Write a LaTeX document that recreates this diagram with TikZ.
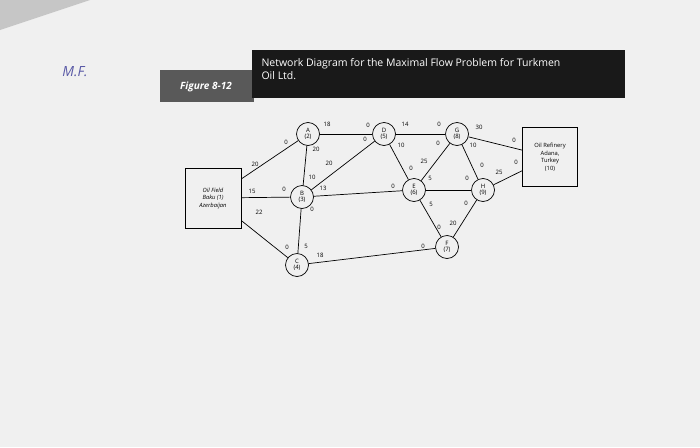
\documentclass[tikz,border=0pt]{standalone}
\usepackage{fontspec}
\setmainfont{Open Sans}
\begin{document}
\begin{tikzpicture}[x=1pt,y=-1pt,
  nd/.style={circle,draw,line width=0.7pt,minimum size=23pt,inner sep=0pt,align=center,font=\fontsize{6}{6.5}\selectfont},
  bx/.style={draw,line width=0.7pt,align=center,font=\fontsize{5.8}{7.5}\selectfont\itshape},
  lb/.style={font=\fontsize{6}{6}\selectfont,inner sep=0pt},
  ed/.style={line width=0.7pt}]
\fill[gray!12] (0,0) rectangle (700,447);
\fill[gray!45] (0,0) -- (90,0) -- (0,30) -- cycle;
\useasboundingbox (0,0) rectangle (700,447);
\node[font=\fontsize{14}{14}\selectfont\itshape,text=blue!30!gray] (mf) at (75,72) {M.F.};
\fill[gray!70!black] (160,70) rectangle (254,102);
\fill[black!90] (252,50) rectangle (625,98);
\node[text=white,font=\fontsize{10}{10}\selectfont\bfseries\itshape] (fig) at (206,87) {Figure 8-12};
\node[text=white,anchor=north west,align=left,font=\fontsize{10.5}{12.5}\selectfont] (title) at (258,55) {Network Diagram for the Maximal Flow Problem for Turkmen\\Oil Ltd.};
\node[bx,minimum width=56pt,minimum height=60pt] (S) at (213,198) {Oil Field\\Baku (1)\\Azerbaijan};
\node[bx,minimum width=55pt,minimum height=59pt,font=\fontsize{5.8}{7.5}\selectfont] (T) at (550,157) {Oil Refinery\\Adana,\\Turkey\\(10)};
\node[nd] (A) at (308,134) {A\\(2)};
\node[nd] (B) at (302,197) {B\\(3)};
\node[nd] (C) at (297,265) {C\\(4)};
\node[nd] (D) at (384,134) {D\\(5)};
\node[nd] (E) at (414,190) {E\\(6)};
\node[nd] (F) at (447,247) {F\\(7)};
\node[nd] (G) at (457,134) {G\\(8)};
\node[nd] (H) at (483,190) {H\\(9)};
\draw[ed] (S) -- (A); \draw[ed] (S) -- (B); \draw[ed] (S) -- (C);
\draw[ed] (A) -- (D); \draw[ed] (A) -- (B); \draw[ed] (B) -- (D);
\draw[ed] (B) -- (E); \draw[ed] (B) -- (C); \draw[ed] (C) -- (F);
\draw[ed] (D) -- (G); \draw[ed] (D) -- (E); \draw[ed] (E) -- (G);
\draw[ed] (E) -- (H); \draw[ed] (E) -- (F); \draw[ed] (F) -- (H);
\draw[ed] (G) -- (H); \draw[ed] (G) -- (T); \draw[ed] (H) -- (T);
\foreach \p/\t in {{286,142}/0,{327,124}/18,{316,149}/20,{255,164}/20,{329,163}/20,{312,177}/10,{252,191}/15,{284,189}/0,{323,188}/13,{259,212}/22,{312,209}/0,{287,247}/0,{306,246}/5,{320,255}/18,{368,125}/0,{365,139}/0,{405,124}/14,{401,145}/10,{439,124}/0,{438,143}/0,{479,127}/30,{473,145}/10,{514,140}/0,{516,162}/0,{499,172}/25,{482,165}/0,{467,178}/0,{424,161}/25,{411,168}/0,{430,178}/5,{393,186}/0,{431,204}/5,{466,203}/0,{439,227}/0,{453,223}/20,{423,246}/0}
  \node[lb] at (\p) {\t};
\end{tikzpicture}
\end{document}
